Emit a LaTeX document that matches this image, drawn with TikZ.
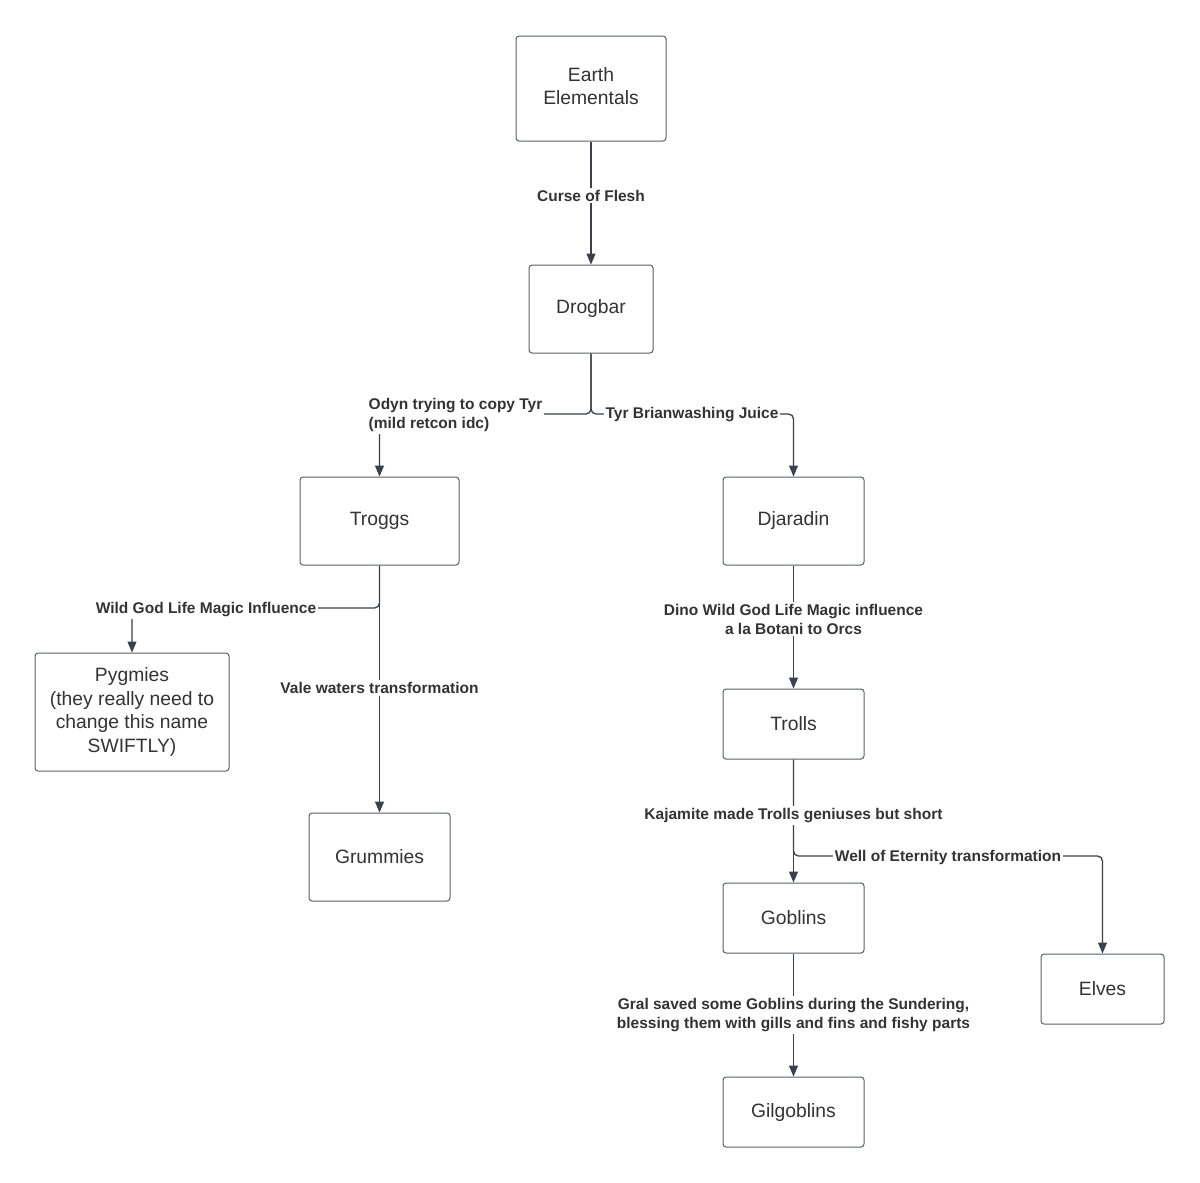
\documentclass[tikz,border=0pt]{standalone}
\usepackage{fontspec}
\setmainfont{Liberation Sans}
\usetikzlibrary{arrows.meta}
\definecolor{linec}{HTML}{3A414A}
\definecolor{boxc}{HTML}{5A5F66}
\definecolor{txtc}{HTML}{333333}
\begin{document}
\begin{tikzpicture}[x=1pt,y=-1pt,
  box/.style={draw=boxc,line width=1pt,rounded corners=3pt,inner sep=0pt,align=center,text=txtc,
    font=\fontsize{19.3}{23.5}\selectfont},
  conn/.style={draw=linec,line width=1.3pt,rounded corners=5pt,-{Triangle[length=11pt,width=9pt]}},
  lbl/.style={fill=white,inner xsep=1.5pt,inner ysep=2pt,text=txtc,font=\bfseries\fontsize{15.5}{19}\selectfont},
]
\useasboundingbox (0,0) rectangle (1200,1183);
\fill[white] (0,0) rectangle (1200,1183);

\node[box,minimum width=150pt,minimum height=105pt] (earth) at (591,88.5) {\raisebox{2.5pt}{\begin{tabular}{@{}c@{}}Earth\\Elementals\end{tabular}}};
\node[box,minimum width=124pt,minimum height=88pt] (drog) at (591,309) {Drogbar};
\node[box,minimum width=159pt,minimum height=88pt] (trog) at (379.5,521) {Troggs};
\node[box,minimum width=141pt,minimum height=88pt] (djar) at (793.5,521) {Djaradin};
\node[box,minimum width=194pt,minimum height=118pt] (pyg) at (132,712) {Pygmies\\(they really need to\\change this name\\SWIFTLY)};
\node[box,minimum width=141pt,minimum height=88pt] (grum) at (379.5,857) {\raisebox{2pt}{Grummies}};
\node[box,minimum width=141pt,minimum height=70pt] (troll) at (793.5,724) {\raisebox{1.5pt}{Trolls}};
\node[box,minimum width=141pt,minimum height=70pt] (gob) at (793.5,918) {Goblins};
\node[box,minimum width=123pt,minimum height=70pt] (elf) at (1102.5,989) {Elves};
\node[box,minimum width=141pt,minimum height=70pt] (gil) at (793.5,1112) {Gilgoblins};

\coordinate (j1) at (591,414);
\coordinate (j2) at (379.5,608);
\coordinate (j3) at (793.5,856);

\draw[conn] (earth) -- (drog);
\draw[conn] (drog.south) -- (j1) -| (trog.north);
\draw[conn] (drog.south) -- (j1) -| (djar.north);
\draw[conn] (trog.south) -- (j2) -| (pyg.north);
\draw[conn] (trog) -- (grum);
\draw[conn] (djar) -- (troll);
\draw[conn] (troll) -- (gob);
\draw[conn] (troll.south) -- (j3) -| (elf.north);
\draw[conn] (gob) -- (gil);

\node[lbl] (l1) at (591,195.5) {Curse of Flesh};
\node[lbl,anchor=west,align=left] (l2) at (367,415) {Odyn trying to copy Tyr\\(mild retcon idc)};
\node[lbl] (l3) at (692,415) {Tyr Brianwashing Juice};
\node[lbl] (l4) at (206,609.5) {Wild God Life Magic Influence};
\node[lbl] (l5) at (379.5,688) {Vale waters transformation};
\node[lbl,align=center] (l6) at (793.5,619) {Dino Wild God Life Magic influence\\a la Botani to Orcs};
\node[lbl] (l7) at (793.5,815.5) {Kajamite made Trolls geniuses but short};
\node[lbl] (l8) at (948,857) {Well of Eternity transformation};
\node[lbl,align=center] (l9) at (793.5,1015) {Gral saved some Goblins during the Sundering,\\blessing them with gills and fins and fishy parts};
\end{tikzpicture}
\end{document}
